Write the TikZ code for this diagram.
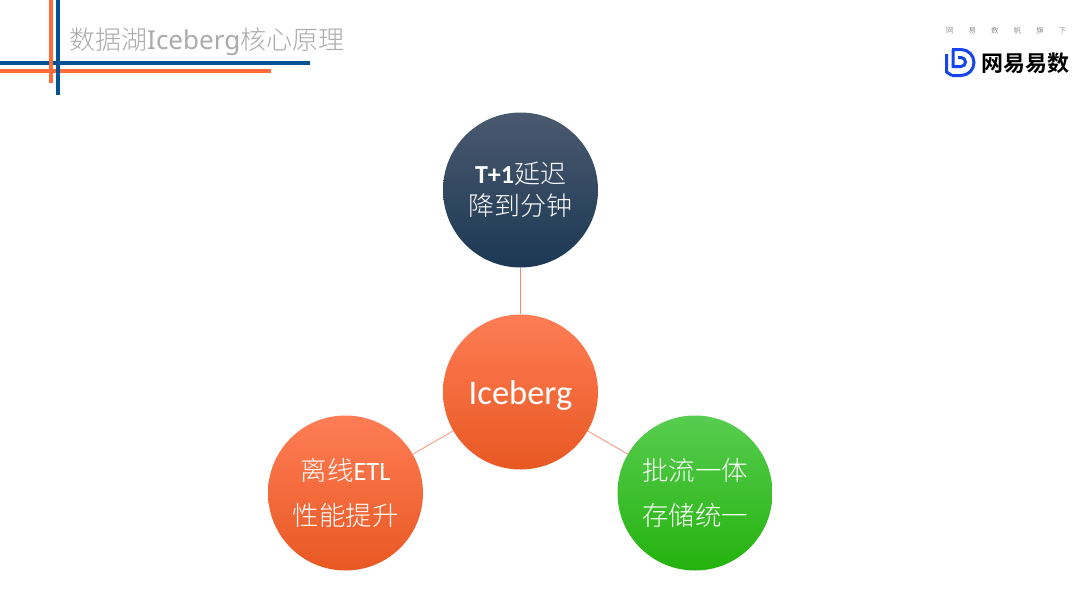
\documentclass[tikz,border=0pt]{standalone}
\usepackage{fontspec}
\setmainfont{Carlito}
\newfontfamily\cjk{Noto Sans CJK SC}[UprightFont=* Light,BoldFont=* Bold]
\newfontfamily\titlefont{Noto Sans}
\definecolor{rulebluec}{RGB}{0,84,150}
\definecolor{ruleorangec}{RGB}{255,107,59}
\definecolor{linkc}{RGB}{255,135,105}
\definecolor{logoc}{RGB}{20,70,235}
\definecolor{navy1}{RGB}{74,89,110}
\definecolor{navy2}{RGB}{32,60,90}
\definecolor{navy3}{RGB}{28,56,84}
\definecolor{coral1}{RGB}{255,125,85}
\definecolor{coral2}{RGB}{255,100,45}
\definecolor{coral3}{RGB}{232,88,35}
\definecolor{grass1}{RGB}{88,205,80}
\definecolor{grass2}{RGB}{44,192,28}
\definecolor{grass3}{RGB}{36,178,14}
\tikzset{
  bubble/.style={circle, minimum size=155pt, inner sep=0pt, align=center, text=white, font=\fontsize{26.5}{45}\selectfont},
  navy/.style={bubble, top color=navy1, middle color=navy2, bottom color=navy3, font=\fontsize{26}{32}\selectfont},
  coral/.style={bubble, top color=coral1, middle color=coral2, bottom color=coral3},
  grass/.style={bubble, top color=grass1, middle color=grass2, bottom color=grass3},
  rule/.style={line width=4pt},
  logoline/.style={logoc, line width=3pt},
  link/.style={linkc, line width=.7pt}
}
\begin{document}
\begin{tikzpicture}[x=1pt,y=-1pt]
  \useasboundingbox (0,0) rectangle (1080,606);
  \fill[white] (0,0) rectangle (1080,606);

  \draw[rule, rulebluec] (0,63) -- (310,63);
  \draw[rule, ruleorangec] (0,71) -- (271,71);
  \draw[rule, ruleorangec] (50.5,0) -- (50.5,83);
  \draw[rule, rulebluec] (57.5,0) -- (57.5,95);
  \node[anchor=west, text=black!33, font=\fontsize{26}{30}\selectfont, inner sep=0pt] (title) at (69,42) {\cjk 数据湖\titlefont Iceberg\cjk 核心原理};

  \node[text=black!60, font=\cjk\fontsize{7.5}{9}\selectfont, inner sep=0pt] (tagline) at (1006,31) {网\hspace{15pt}易\hspace{15pt}数\hspace{15pt}帆\hspace{15pt}旗\hspace{15pt}下};
  % logo
  \draw[logoline] (946.5,54) -- (946.5,72) -- (952,75.5);
  \draw[logoline] (952,49.5) -- (961,49.5) arc[start angle=-90, end angle=90, radius=13] -- (952,75.5);
  \draw[logoline] (953,49.5) -- (953,66.5) -- (961,66.5) arc[start angle=90, end angle=-90, radius=4.5] -- (958,57.5);
  \node[anchor=west, text=black, font=\cjk\bfseries\fontsize{22}{26}\selectfont, inner sep=0pt] (logotext) at (981,63) {网易易数};

  \node[navy] (delay) at (520.5,190) {{\bfseries T+1}\cjk 延迟\\\cjk 降到分钟};
  \node[coral] (iceberg) at (520.5,392) {\fontsize{34.5}{38}\selectfont\rule[-8pt]{0pt}{40pt}Iceberg};
  \node[coral] (etl) at (345.5,493) {\cjk 离线\normalfont ETL\\\cjk 性能提升};
  \node[grass] (batch) at (695,493) {\cjk 批流一体\\\cjk 存储统一};

  \draw[link] (iceberg) -- (delay);
  \draw[link] (iceberg) -- (etl);
  \draw[link] (iceberg) -- (batch);
\end{tikzpicture}
\end{document}
